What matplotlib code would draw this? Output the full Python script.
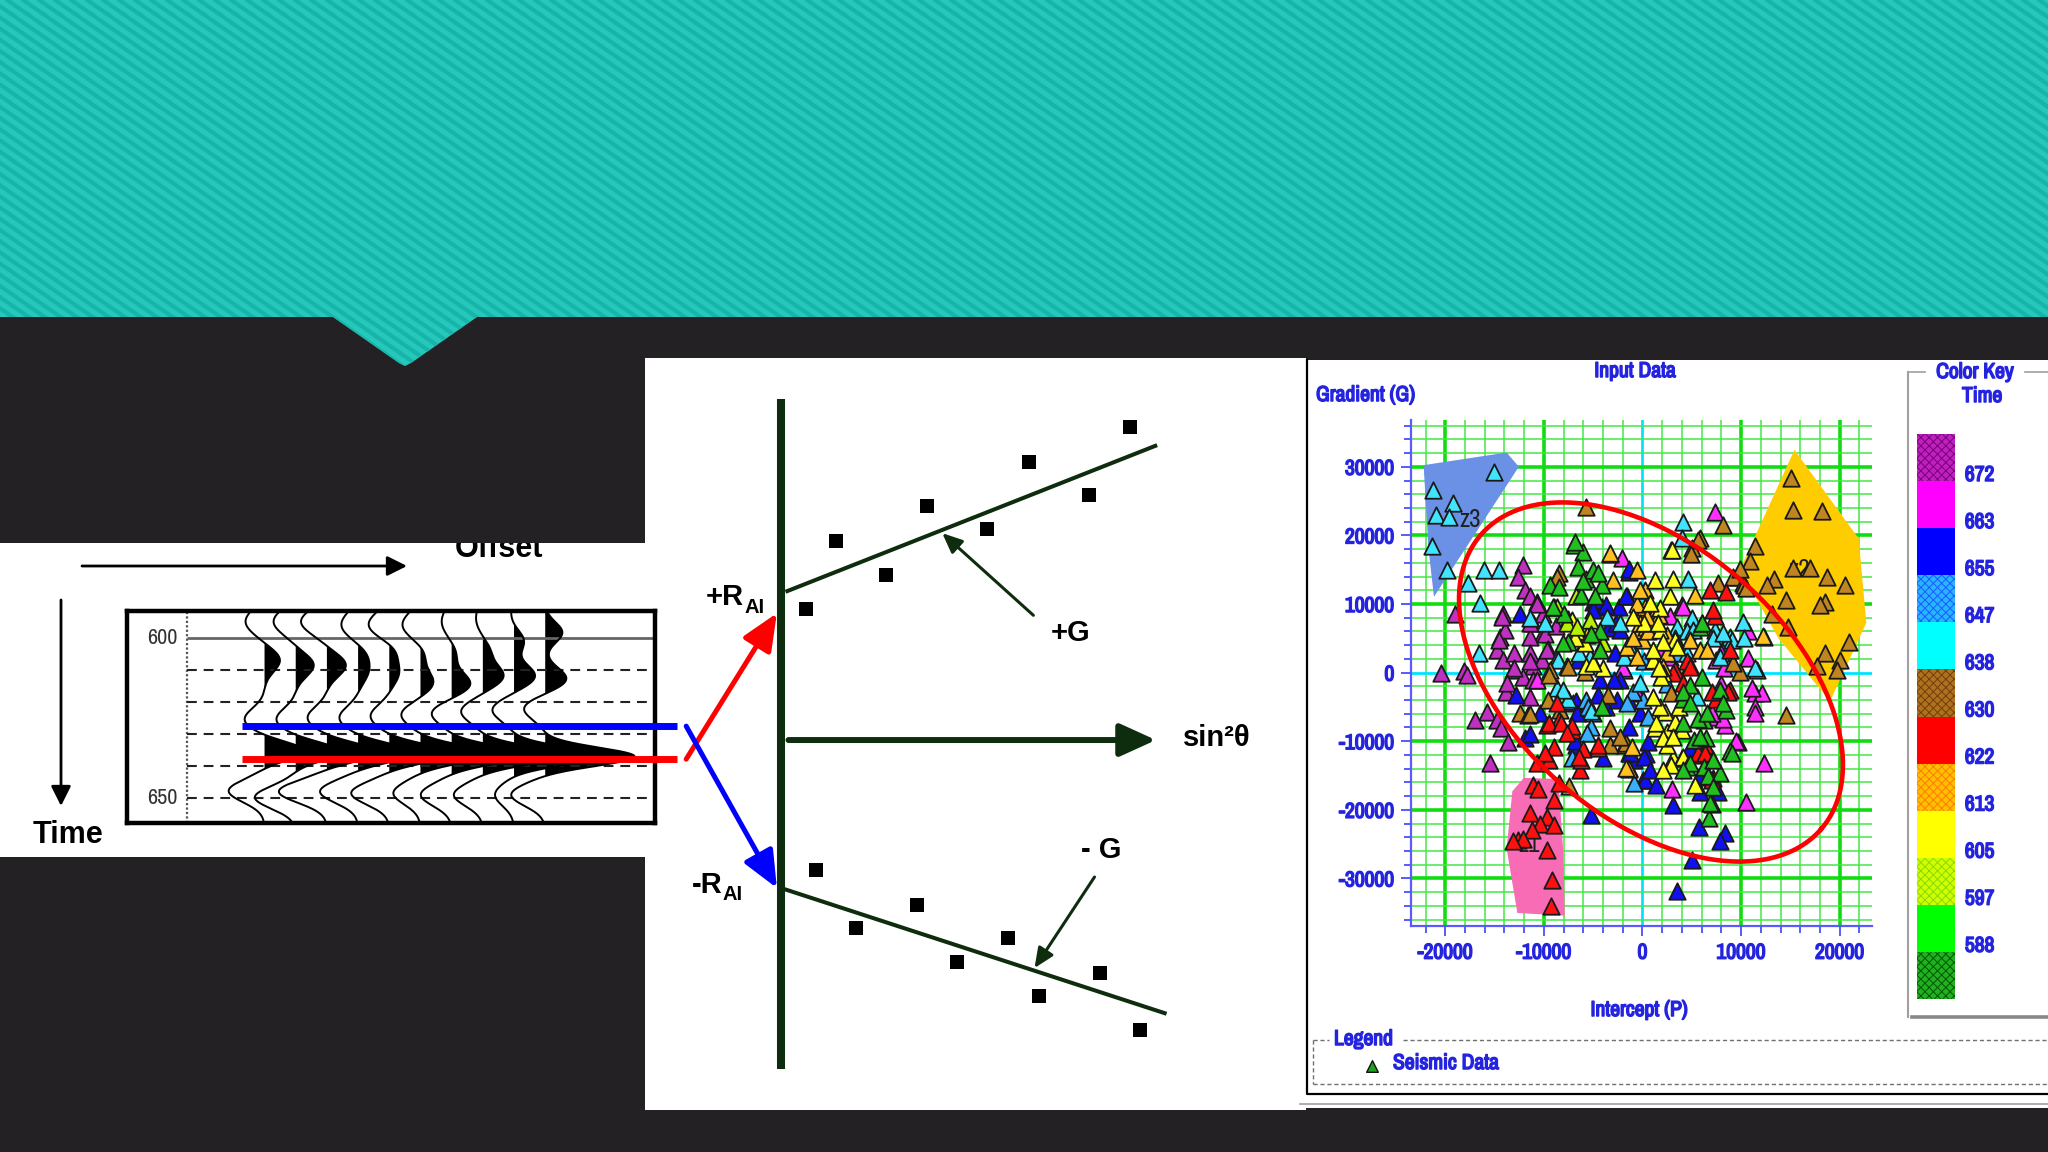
import numpy as np
import matplotlib
matplotlib.use("Agg")
import matplotlib.pyplot as plt
from matplotlib import font_manager
from matplotlib import patheffects
from matplotlib.patches import Rectangle, Polygon, ConnectionPatch
from matplotlib.collections import LineCollection

W, H = 2048, 1152

fonts = font_manager.fontManager.ttflist
installed = {f.name for f in fonts}
SANS = "Liberation Sans" if "Liberation Sans" in installed else "DejaVu Sans"
# a narrow face for the screenshot-like crossplot labels, if one is there
NARROW, STRETCH, NSCALE = SANS, "normal", 0.86
for f in fonts:
    if "Narrow" in f.name:
        NARROW, STRETCH, NSCALE = f.name, "normal", 1.0
        break
else:
    for f in fonts:
        if "Condensed" in f.name:
            NARROW, STRETCH, NSCALE = f.name, "normal", 1.0
            break
        if str(f.stretch) in ("condensed", "semi-condensed") and f.name in ("DejaVu Sans", SANS):
            NARROW, STRETCH, NSCALE = f.name, "condensed", 1.0
            break

plt.rcParams["font.family"] = [SANS, "DejaVu Sans"]
plt.rcParams["hatch.linewidth"] = 0.7

# ---------------- data ----------------
# left: gather of 10 traces, events read off the wiggles
# (time in ms, amplitude in trace spacings)
trace_no = np.arange(1, 11)
time_labels = [600, 650]
time_grid = [610, 620, 630, 640, 650]
top_trough_t = [595, 595, 595, 596, 596, 596, 595, 594, 593, 592]
top_trough_amp = [-0.61, -0.71, -0.83, -0.54, -0.67, -0.58, -0.32, -0.22, -0.10, 0.0]
ev1_t = [607.0, 608.6, 608.6, 610.6, 611.0, 614.0, 614.6, 612.0, 612.0, 613.0]
ev1_amp = [0.50, 0.58, 0.61, 0.30, 0.30, 0.42, 0.62, 0.66, 0.68, 0.70]
ev1b_t = [604, 604, 604, 605, 604, 605, 605, 604, 601, 598.4]
ev1b_amp = [0.0, 0.0, 0.0, 0.22, 0.22, 0.15, 0.15, 0.22, 0.33, 0.55]
mid_trough_t = [625.5, 625.5, 625, 625, 624.5, 624, 623.5, 623, 622.5, 622]
mid_trough_amp = [-0.64, -0.62, -0.62, -0.60, -0.60, -0.62, -0.66, -0.70, -0.70, -0.70]
bright_t = [635.3, 635.5, 635.7, 635.9, 636.1, 636.3, 636.5, 636.7, 636.9, 637.1]
bright_amp = [1.28, 1.44, 1.63, 1.80, 1.99, 2.15, 2.34, 2.50, 2.69, 2.87]
low_trough_t = [647.8, 649.8, 648.0, 648.0, 648.5, 648.5, 649.0, 649.0, 649.0, 649.0]
low_trough_amp = [-1.15, -1.31, -1.54, -1.22, -1.22, -0.87, -0.99, -0.93, -0.61, -1.09]
blue_pick_t = 627.6
red_pick_t = 637.9

# middle: amplitude vs sin^2(theta)
sin2_upper = [0.066, 0.147, 0.281, 0.390, 0.550, 0.660, 0.822, 0.931]
amp_upper = [0.869, 1.317, 1.093, 1.548, 1.399, 1.841, 1.620, 2.072]
sin2_lower = [0.092, 0.200, 0.362, 0.469, 0.605, 0.688, 0.850, 0.956]
amp_lower = [-0.858, -1.246, -1.093, -1.467, -1.314, -1.695, -1.542, -1.922]
R_pos, G_pos = 0.97, 0.98
R_neg, G_neg = -0.98, -0.81

# right: intercept / gradient crossplot, grouped by colour-key time
pts_672 = [(-20400, 0), (-18100, 300), (-17800, -300), (-19000, 8600),
           (-12100, 15700), (-12600, 14000), (-11900, 12000), (-11400, 11100), (-10700, 10300),
           (-10100, 8600), (-14100, 8600), (-11100, 7200), (-10100, 5700), (-14500, 5200),
           (-13900, 6200), (-11400, 5200), (-14800, 3300), (-14100, 1800), (-13100, 400),
           (-11400, 2800), (-11100, 900), (-12100, -600), (-10200, 1800), (-15800, -5700),
           (-17000, -6900), (-14800, -6900), (-14300, -8100), (-13600, -10100), (-15500, -13200),
           (-14200, 8100), (-14600, 4700), (-13000, 2800), (-11400, 7300), (-10700, 10000),
           (-9900, 5600), (-11400, 1700), (-13000, 600), (-13800, -2800), (-11100, -1100),
           (-9000, 9500), (-8800, 6800), (-9600, 3500), (-9720, 3290), (-13780, -1560),
           (-11410, -3510)]
pts_663 = [(7400, 23400), (-2100, 16700), (-1900, 400), (4000, 9900), (2800, 8200), (1800, 2800),
           (8200, 3500), (7500, 1800), (10700, 2100), (10700, 6000), (11400, -3000), (12100, -3000),
           (11400, -5000), (11400, -5900), (12300, -13200), (10500, -18800), (3000, -16900),
           (9700, -10100), (8400, -7600), (6800, -6400), (-600, -3000), (-10700, -1100),
           (4100, 9500), (8000, 2800), (8300, 600), (8000, -1700), (8200, -6700), (9500, -10000),
           (11100, -2200), (-1940, 620), (2790, 2320), (-7010, -4480), (7020, -5940)]
pts_655 = [(-12400, 8600), (-1400, 14700), (-5000, 10300), (-4100, 9600), (-2400, 9600),
           (-3500, 6500), (-1600, 11100), (-6500, 1800), (-5200, -20800), (-11900, -9600),
           (-6700, -10600), (-4000, -12500), (-12800, -3300), (-1400, -7900), (-900, -12700),
           (100, -15700), (-4300, -1100), (-6700, -4200), (-2300, -1100), (400, -11800),
           (300, -15700), (1400, -16400), (3100, -19300), (5700, -22500), (8400, -23400),
           (7900, -24600), (5000, -27300), (3500, -31900), (5800, -17400), (7700, -17400),
           (5700, -15200), (600, -10100), (4800, -11000), (-4700, 10600), (-3700, 9800),
           (-1700, 11200), (-2700, 7300), (-5200, 2200), (-2900, -1100), (-1400, -4200),
           (-3700, -5000), (-4500, -3300), (-6800, -10000), (-1400, -11700), (200, -12300),
           (-11400, -8900), (-1400, 15100), (-4980, 9130), (-2280, 6210), (-2790, 2810),
           (-6680, -5940), (-2620, -3990), (-250, -5940), (-1270, -11770), (-10390, -5940),
           (760, -14200)]
pts_647 = [(-7700, -4200), (-5700, -4000), (-5000, -5900), (-5200, -7900), (-7200, -12500),
           (-900, -16100), (600, -6400), (100, -4000), (-1000, -2800), (2500, -1700),
           (3700, 2800), (200, 1700), (-5490, -4970), (-1600, -4480), (-5660, -8850)]
pts_638 = [(-15100, 29300), (-21200, 26600), (-19200, 24700), (-20900, 23000), (-19600, 22700),
           (-21300, 18400), (-19800, 15000), (-16100, 15000), (-14600, 15000), (-17700, 13000),
           (-16500, 10100), (-16600, 2800), (-11400, 7900), (-2300, 7200), (-1900, 2300),
           (-5300, 2300), (-8700, 2100), (4100, 22000), (4000, 19600), (4600, 13700),
           (9700, 14000), (3500, 6700), (5000, 7900), (7400, 6200), (8900, 5200), (10200, 7400),
           (4500, 2800), (11600, 400), (-8700, -2300), (5500, -3500), (-9900, 7300),
           (-6400, 2800), (-7600, -3900), (-5200, -5600), (4500, 6100), (7200, 5000),
           (9100, 4700), (10300, 5000), (11400, 600), (-3630, 8150), (-8530, 1840),
           (-1260, 3780), (5150, 6210), (8200, 5720), (7860, 2320), (-8030, -2540),
           (-250, -1560)]
pts_630 = [(15100, 28300), (15300, 23700), (18200, 23500), (11400, 18400), (10900, 16200),
           (15300, 15200), (17000, 15200), (13300, 13700), (12600, 12800), (18700, 14000),
           (20500, 12800), (14600, 10600), (18500, 10300), (18000, 9900), (13100, 8600),
           (14800, 6700), (20900, 4500), (18500, 2800), (17700, 900), (20000, 1800), (19700, 400),
           (8200, 21500), (5800, 19600), (5000, 18100), (7700, 13000), (9200, 14000),
           (10200, 13000), (12300, 5200), (9900, 100), (14600, -6200), (2900, -3000),
           (-5700, 24200), (-8500, 14500), (-9400, 400), (-7700, 900), (-5800, 100),
           (-12400, -5900), (-11600, -6200), (-3300, -8100), (-1900, -10600), (-9500, -400),
           (-3500, -3300), (-7500, -16600), (-8700, 13900), (-3300, 17300), (-11400, -6100),
           (-3300, -10600), (-1700, -10300), (-1400, -13900), (10300, 12800), (9900, 15100),
           (10500, 12300), (5600, 19300), (4900, 17300), (-7520, 870), (9210, 1350),
           (-9550, -3990), (-2280, -9340), (-8370, -5450)]
pts_622 = [(6800, 12000), (8500, 11800), (7400, 8200), (8900, 3300), (3300, 400), (4800, 1100),
           (-10700, -13200), (-9500, -12700), (-11100, -16400), (-10600, -16900), (-8500, -16100),
           (-9000, -18600), (-11400, -20500), (-9700, -21000), (-10400, -22000), (-9000, -22200),
           (-11200, -22900), (-12600, -24400), (-12100, -24200), (-13100, -24600), (-9700, -25900),
           (-9200, -30200), (-9300, -34000), (-6300, -14200), (-6200, -12700), (-9000, -10800),
           (-4500, -11000), (-7200, -8400), (-9700, -7600), (-8500, -6900), (-8700, -4500),
           (3100, -100), (5700, -12000), (7000, -12500), (7200, -15400), (7500, -3800),
           (6300, -10600), (8900, -2500), (-9500, -7300), (-8300, -7300), (-7200, -7800),
           (-9900, -11700), (-6000, -11200), (-6400, -12300), (-4500, -10600), (4500, 1700),
           (7000, -2800), (8700, -2800), (5600, -11700), (7000, -15600), (7180, 9130),
           (4820, 870), (-7690, -8850), (6340, -11770), (4140, -1560)]
pts_613 = [(-3300, 17400), (-3000, 13500), (-600, 15000), (-400, 9100), (-300, 6200),
           (-1600, 3800), (300, 12000), (5300, 11300), (300, 9600), (1100, 8200), (400, 6700),
           (4800, 4800), (5800, 3300), (100, 4800), (-1100, -10800), (-1400, -14000),
           (-600, 10000), (1700, 8400), (600, 6100), (3300, 5000), (2500, 2800), (-1000, 5000),
           (-1700, -13900), (12200, 5300), (2900, 17900), (-5660, 5480), (-250, 7180),
           (-590, 2320), (-250, 12040), (420, 8150), (2450, 5480), (6510, 3290), (2110, 870)]
pts_605 = [(-6700, 6000), (-5800, 4300), (-5700, 900), (-4000, 600), (3000, 17900), (1300, 13500),
           (3100, 13700), (2800, 11100), (1800, 9400), (1800, 6200), (3300, 4800), (1100, 1800),
           (2100, -100), (1900, -600), (1300, -8100), (2500, -8600), (4000, -8400), (3100, -12500),
           (4000, -12500), (2500, -10600), (2300, -5700), (3300, -7200), (5300, -16400),
           (-7600, 7800), (-6800, 5000), (200, 7300), (2100, 4500), (1700, 600), (1400, -7300),
           (2100, -9500), (4100, -12300), (2900, -13400), (3700, -5000), (-7180, 7670),
           (-930, 8150), (-4980, 1350), (760, 10100), (1610, 7180), (3470, 3780), (1100, 3290),
           (1780, -4970), (3130, -9340), (2110, -14200), (1100, -3510)]
pts_597 = [(-8700, 9600), (-7700, 7200), (-6700, 11100), (-5300, 7700), (-4000, 4300),
           (-6680, 6700)]
pts_588 = [(-6900, 18600), (-6000, 17600), (-6500, 15400), (-5700, 13700), (-9400, 12800),
           (-8500, 12500), (-6200, 11300), (-5000, 15000), (-4100, 12800), (-4800, 11100),
           (-8000, 8600), (-4300, 6000), (-4300, 3300), (5800, 6700), (-4100, -5000),
           (6700, -21200), (7000, -19100), (7900, -14700), (6200, -13700), (4500, -13700),
           (5200, -9800), (8900, -11500), (8500, -5500), (4100, -3800), (4800, -1800),
           (6200, -6900), (6000, -600), (-6800, 19000), (-6000, 13400), (-4500, 14500),
           (-7600, 4500), (-5200, 5600), (6000, 7300), (4100, -2800), (5600, -6700),
           (6400, -9500), (7200, -12800), (6600, -15100), (6800, -19000), (9100, -11700),
           (-9040, 9610), (-8030, 4270), (6000, 7180), (4820, -4480), (6510, -5940),
           (4140, -7390), (5830, -9340), (4820, -13230), (7180, -16630), (4140, -14200),
           (7860, -2540), (8200, -4480)]

zone_z3 = [(-22200, 30240), (-13780, 32080), (-12540, 30010), (-21150, 11050), (-21700, 18000)]
zone_z2 = [(15410, 32470), (21930, 19530), (22700, 7250), (19020, -4180), (13780, 5020), (9900, 15060)]
zone_z1 = [(-12030, -15340), (-8540, -15510), (-8030, -26220), (-7880, -35430), (-12690, -35040),
           (-13780, -25660), (-13200, -17300)]
ellipse_center = (860, -1370)
ellipse_u = (17250, -21460)
ellipse_v = (9020, 14990)

key_times = [672, 663, 655, 647, 638, 630, 622, 613, 605, 597, 588]
key_face = ["#c020c0", "#ff00ff", "#0000ff", "#28b4ff", "#00ffff", "#b07020",
            "#ff0000", "#ffc000", "#ffff00", "#d0ff00", "#00ff00", "#20b020"]
key_dither = ["#7a007a", None, None, "#1a5cff", None, "#704008",
              None, "#ff7c00", None, "#8cd800", None, "#005a00"]
point_colors = {672: "#c030c0", 663: "#ff30ff", 655: "#1010f0", 647: "#38b0ff", 638: "#40e4ff",
                630: "#c08420", 622: "#ff1010", 613: "#ffc020", 605: "#ffff20", 597: "#b8f000",
                588: "#20c020"}
point_groups = {672: pts_672, 663: pts_663, 655: pts_655, 647: pts_647, 638: pts_638,
                630: pts_630, 622: pts_622, 613: pts_613, 605: pts_605, 597: pts_597, 588: pts_588}

# ---------------- figure ----------------
fig = plt.figure(figsize=(W / 100, H / 100), dpi=100, facecolor="#232123")


def px_axes(x0, y0, x1, y1, z=1):
    return fig.add_axes([x0 / W, 1 - y1 / H, (x1 - x0) / W, (y1 - y0) / H], zorder=z)


# background, banner and white panels
bg = px_axes(0, 0, W, H, z=0)
bg.set_xlim(0, W)
bg.set_ylim(H, 0)
bg.axis("off")
banner = Polygon([(0, 0), (W, 0), (W, 317), (477, 317), (411, 363), (405, 366), (399, 363),
                  (333, 317), (0, 317)], closed=True, fc="#26c8bc", ec="none")
bg.add_patch(banner)
starts = np.arange(-560, W + 16, 16)
stripes = LineCollection([[(s, -5), (s + 532, 367)] for s in starts], colors="#17b4a9",
                         linewidths=3.0)
stripes.set_clip_path(banner)
bg.add_collection(stripes)
for (x0, y0, x1, y1) in [(0, 543, 645, 857), (645, 358, 1306, 1110), (1306, 360, W, 1108)]:
    bg.add_patch(Rectangle((x0, y0), x1 - x0, y1 - y0, fc="white", ec="none"))
bg.plot([1307, 1307, W], [360, 1094, 1094], color="black", lw=1.6)
bg.plot([1300, W], [1104, 1104], color="#a0a0a0", lw=1.2)

# left: offset / time arrows
lft = px_axes(0, 543, 645, 857)
lft.set_xlim(0, 645)
lft.set_ylim(857, 543)
lft.axis("off")
lft.text(499, 557, "Offset", ha="center", va="baseline", fontsize=22, fontweight="bold",
         clip_on=True)
arrow_kw = dict(arrowstyle="-|>,head_length=0.6,head_width=0.3", mutation_scale=20, lw=2,
                color="black", shrinkA=0, shrinkB=0)
lft.annotate("", xy=(407, 566), xytext=(82, 566), arrowprops=arrow_kw)
lft.annotate("", xy=(61, 806), xytext=(61, 600), arrowprops=arrow_kw)
lft.text(68, 843, "Time", ha="center", va="baseline", fontsize=22, fontweight="bold")

# seismic gather
sax = px_axes(127, 611, 655, 823, z=2)
sax.set_xlim(-3.41, 13.52)
sax.set_ylim(657.8, 591.7)
sax.set_xticks([])
sax.set_yticks([])
sax.set_facecolor("white")
for sp in sax.spines.values():
    sp.set_linewidth(3.2)
x_dot = -1.486
sax.axvline(x_dot, color="#555555", lw=1.6, ls=(0, (1, 1)))
sax.hlines(600, x_dot, 13.52, color="#666666", lw=2)
sax.hlines(time_grid, x_dot, 13.52, color="#222222", lw=1.5, linestyles=(0, (4.7, 3.3)))
for tt in time_labels:
    sax.text(-1.8, tt, str(tt), ha="right", va="center", fontsize=16 * NSCALE, family=NARROW,
             fontstretch=STRETCH, color="#333333")

t = np.linspace(591.7, 657.8, 700)


def lobe(t0, a, w):
    return a * np.exp(-0.5 * ((t - t0) / w) ** 2)


for i, base in enumerate(trace_no):
    tr = (lobe(top_trough_t[i], top_trough_amp[i], 4.0) + lobe(ev1b_t[i], ev1b_amp[i], 3.2)
          + lobe(ev1_t[i], ev1_amp[i], 3.5) + lobe(mid_trough_t[i], mid_trough_amp[i], 3.5)
          + lobe(bright_t[i], bright_amp[i], 2.8) + lobe(low_trough_t[i], low_trough_amp[i], 3.5))
    sax.fill_betweenx(t, base, base + tr, where=tr > 0, color="black", lw=0, interpolate=True)
    sax.plot(base + tr, t, color="black", lw=1.4)

sax.plot([0.278, 14.23], [blue_pick_t] * 2, color="#0000ff", lw=5, clip_on=False,
         solid_capstyle="butt", zorder=5)
sax.plot([0.278, 14.23], [red_pick_t] * 2, color="#ff0000", lw=5, clip_on=False,
         solid_capstyle="butt", zorder=5)

# middle: AVO sketch
DK = "#0e2c0e"
avo = px_axes(645, 358, 1306, 1110, z=1)
avo.set_xlim(-0.3627, 1.4)
avo.set_ylim(-2.450, 2.530)
avo.axis("off")
avo.plot([0, 0], [-2.18, 2.26], color=DK, lw=5.8, solid_capstyle="butt")
avo.annotate("", xy=(1.0, 0), xytext=(0.02, 0),
             arrowprops=dict(arrowstyle="-|>,head_length=0.55,head_width=0.25", mutation_scale=40,
                             lw=4.3, color=DK, shrinkA=0, shrinkB=0))
xs = np.array([0.017, 0.998])
avo.plot(xs, R_pos + G_pos * xs, color=DK, lw=2.9)
xs = np.array([0.011, 1.023])
avo.plot(xs, R_neg + G_neg * xs, color=DK, lw=2.9)
avo.plot(sin2_upper, amp_upper, "s", ms=9.4, color="black", mew=0)
avo.plot(sin2_lower, amp_lower, "s", ms=9.4, color="black", mew=0)
g_kw = dict(arrowstyle="-|>,head_length=0.5,head_width=0.22", mutation_scale=24, lw=2.2,
            color=DK, shrinkA=0, shrinkB=0)
avo.annotate("", xy=(0.43, 1.37), xytext=(0.673, 0.826), arrowprops=g_kw)
avo.annotate("", xy=(0.676, -1.51), xytext=(0.836, -0.907), arrowprops=g_kw)
avo.text(0.772, 0.706, "+G", ha="center", va="center", fontsize=21, fontweight="bold")
avo.text(0.855, -0.725, "- G", ha="center", va="center", fontsize=21, fontweight="bold")
avo.text(1.162, 0.013, "sin²θ", ha="center", va="center", fontsize=21, fontweight="bold")
for (x, y, s) in [(-0.0987, 0.891, "+R"), (-0.157, -1.013, "-R")]:
    avo.text(x, y, s, ha="right", va="baseline", fontsize=21, fontweight="bold")
    avo.annotate("AI", xy=(x, y), xytext=(0.5, -5.3), textcoords="offset points", ha="left",
                 va="baseline", fontsize=14.5, fontweight="bold")

for t_pick, amp_tip, col in [(red_pick_t, 0.84, "#ff0000"), (blue_pick_t, -0.98, "#0000ff")]:
    fig.add_artist(ConnectionPatch(xyA=(14.52, t_pick), coordsA=sax.transData,
                                   xyB=(-0.011, amp_tip), coordsB=avo.transData,
                                   arrowstyle="-|>,head_length=0.8,head_width=0.35",
                                   mutation_scale=28, lw=3.6, color=col, shrinkA=0, shrinkB=0,
                                   zorder=6))

# right: crossplot
BLUE = "#2424e0"
thick = [patheffects.withStroke(linewidth=1.1, foreground=BLUE)]
cx = px_axes(1411, 420, 1872, 926)
cx.set_xlim(-23478, 23276)
cx.set_ylim(-36938, 36822)
cx.set_facecolor("white")


def grid_style(v):
    if v == 0:
        return "#00e5ff", 2.0
    if v % 10000 == 0:
        return "#10dd10", 2.6
    return "#44e844", 1.1


for v in np.arange(-22000, 23001, 2000):
    c, lw = grid_style(v)
    cx.axvline(v, color=c, lw=lw, zorder=0.5)
for v in np.arange(-36000, 36001, 2000):
    c, lw = grid_style(v)
    cx.axhline(v, color=c, lw=lw, zorder=0.5)

for side in ("top", "right"):
    cx.spines[side].set_visible(False)
for side in ("left", "bottom"):
    cx.spines[side].set_color("#5a5aff")
    cx.spines[side].set_linewidth(1.6)
cx.set_xticks(np.arange(-20000, 20001, 10000))
cx.set_xticklabels(["-20000", "-10000", "0", "10000", "20000"])
cx.set_yticks(np.arange(-30000, 30001, 10000))
cx.set_yticklabels(["-30000", "-20000", "-10000", "0", "10000", "20000", "30000"])
cx.set_xticks(np.arange(-22000, 23001, 2000), minor=True)
cx.set_yticks(np.arange(-36000, 36001, 2000), minor=True)
cx.tick_params(which="both", direction="out", color="#5a5aff", width=1.4, labelcolor=BLUE,
               labelsize=15.5 * NSCALE)
cx.tick_params(which="major", length=7, pad=5)
cx.tick_params(which="minor", length=5)
for lbl in cx.get_xticklabels() + cx.get_yticklabels():
    lbl.set_fontfamily(NARROW)
    lbl.set_fontstretch(STRETCH)
    lbl.set_fontweight("bold")
    lbl.set_path_effects(thick)

cx.add_patch(Polygon(zone_z3, closed=True, fc="#6b91e6", ec="none", zorder=1))
cx.add_patch(Polygon(zone_z2, closed=True, fc="#ffcc00", ec="none", zorder=1))
cx.add_patch(Polygon(zone_z1, closed=True, fc="#f86cb6", ec="none", zorder=1))
for (zx, zy, zs) in [(-17465, 22316, "z3"), (15900, 15100, "z2"), (-11449, -25106, "z1")]:
    cx.text(zx, zy, zs, ha="center", va="center", fontsize=18 * NSCALE, family=NARROW,
            fontstretch=STRETCH, color="#202020", zorder=2)

for key in key_times:
    pts = np.array(point_groups[key])
    cx.scatter(pts[:, 0], pts[:, 1], marker="^", s=140, c=point_colors[key],
               edgecolors="#1a1a1a", linewidths=1.3, zorder=3)

th = np.linspace(0, 2 * np.pi, 240)
ex = ellipse_center[0] + ellipse_u[0] * np.cos(th) + ellipse_v[0] * np.sin(th)
ey = ellipse_center[1] + ellipse_u[1] * np.cos(th) + ellipse_v[1] * np.sin(th)
cx.plot(ex, ey, color="#ff0000", lw=3.3, zorder=4)

txt_kw = dict(color=BLUE, fontsize=15.5 * NSCALE, family=NARROW, fontstretch=STRETCH,
              fontweight="bold", va="center", path_effects=thick)
bg.text(1635, 371, "Input Data", ha="center", **txt_kw)
bg.text(1316, 395, "Gradient (G)", ha="left", **txt_kw)
bg.text(1639, 1010, "Intercept (P)", ha="center", **txt_kw)

# colour key
bg.plot([1908, 1925], [372, 372], color="#a0a0a0", lw=1.2)
bg.plot([2025, W], [372, 372], color="#a0a0a0", lw=1.2)
bg.plot([1908, 1908], [372, 1017], color="#a0a0a0", lw=1.5)
bg.plot([1912, W], [1017, 1017], color="#888888", lw=2.6)
bg.text(1975, 372, "Color Key", ha="center", **txt_kw)
bg.text(1982, 396, "Time", ha="center", **txt_kw)
kax = px_axes(1917, 434, 1955, 999)
kax.set_xlim(0, 1)
kax.set_ylim(0, 12)
kax.axis("off")
for k, (fc, dc) in enumerate(zip(key_face, key_dither)):
    kax.add_patch(Rectangle((0, 11 - k), 1, 1, fc=fc, ec=dc if dc else fc, lw=0,
                            hatch="xxxx" if dc else None))
for i, tm in enumerate(key_times):
    kax.text(1.26, 11 - i + 0.13, str(tm), ha="left", **txt_kw)

# legend box
dash = dict(color="#707070", lw=1.0, ls=(0, (3, 2)))
bg.plot([1313, 1329], [1040, 1040], **dash)
bg.plot([1403, W], [1040, 1040], **dash)
bg.plot([1313, 1313], [1040, 1084], **dash)
bg.plot([1313, W], [1084, 1084], **dash)
bg.text(1334, 1039, "Legend", ha="left", **txt_kw)
bg.scatter([1372], [1066], marker="^", s=70, c="#20a020", edgecolors="#111111", linewidths=1)
bg.text(1393, 1063, "Seismic Data", ha="left", **txt_kw)

fig.savefig("out.png", dpi=100, facecolor=fig.get_facecolor())
